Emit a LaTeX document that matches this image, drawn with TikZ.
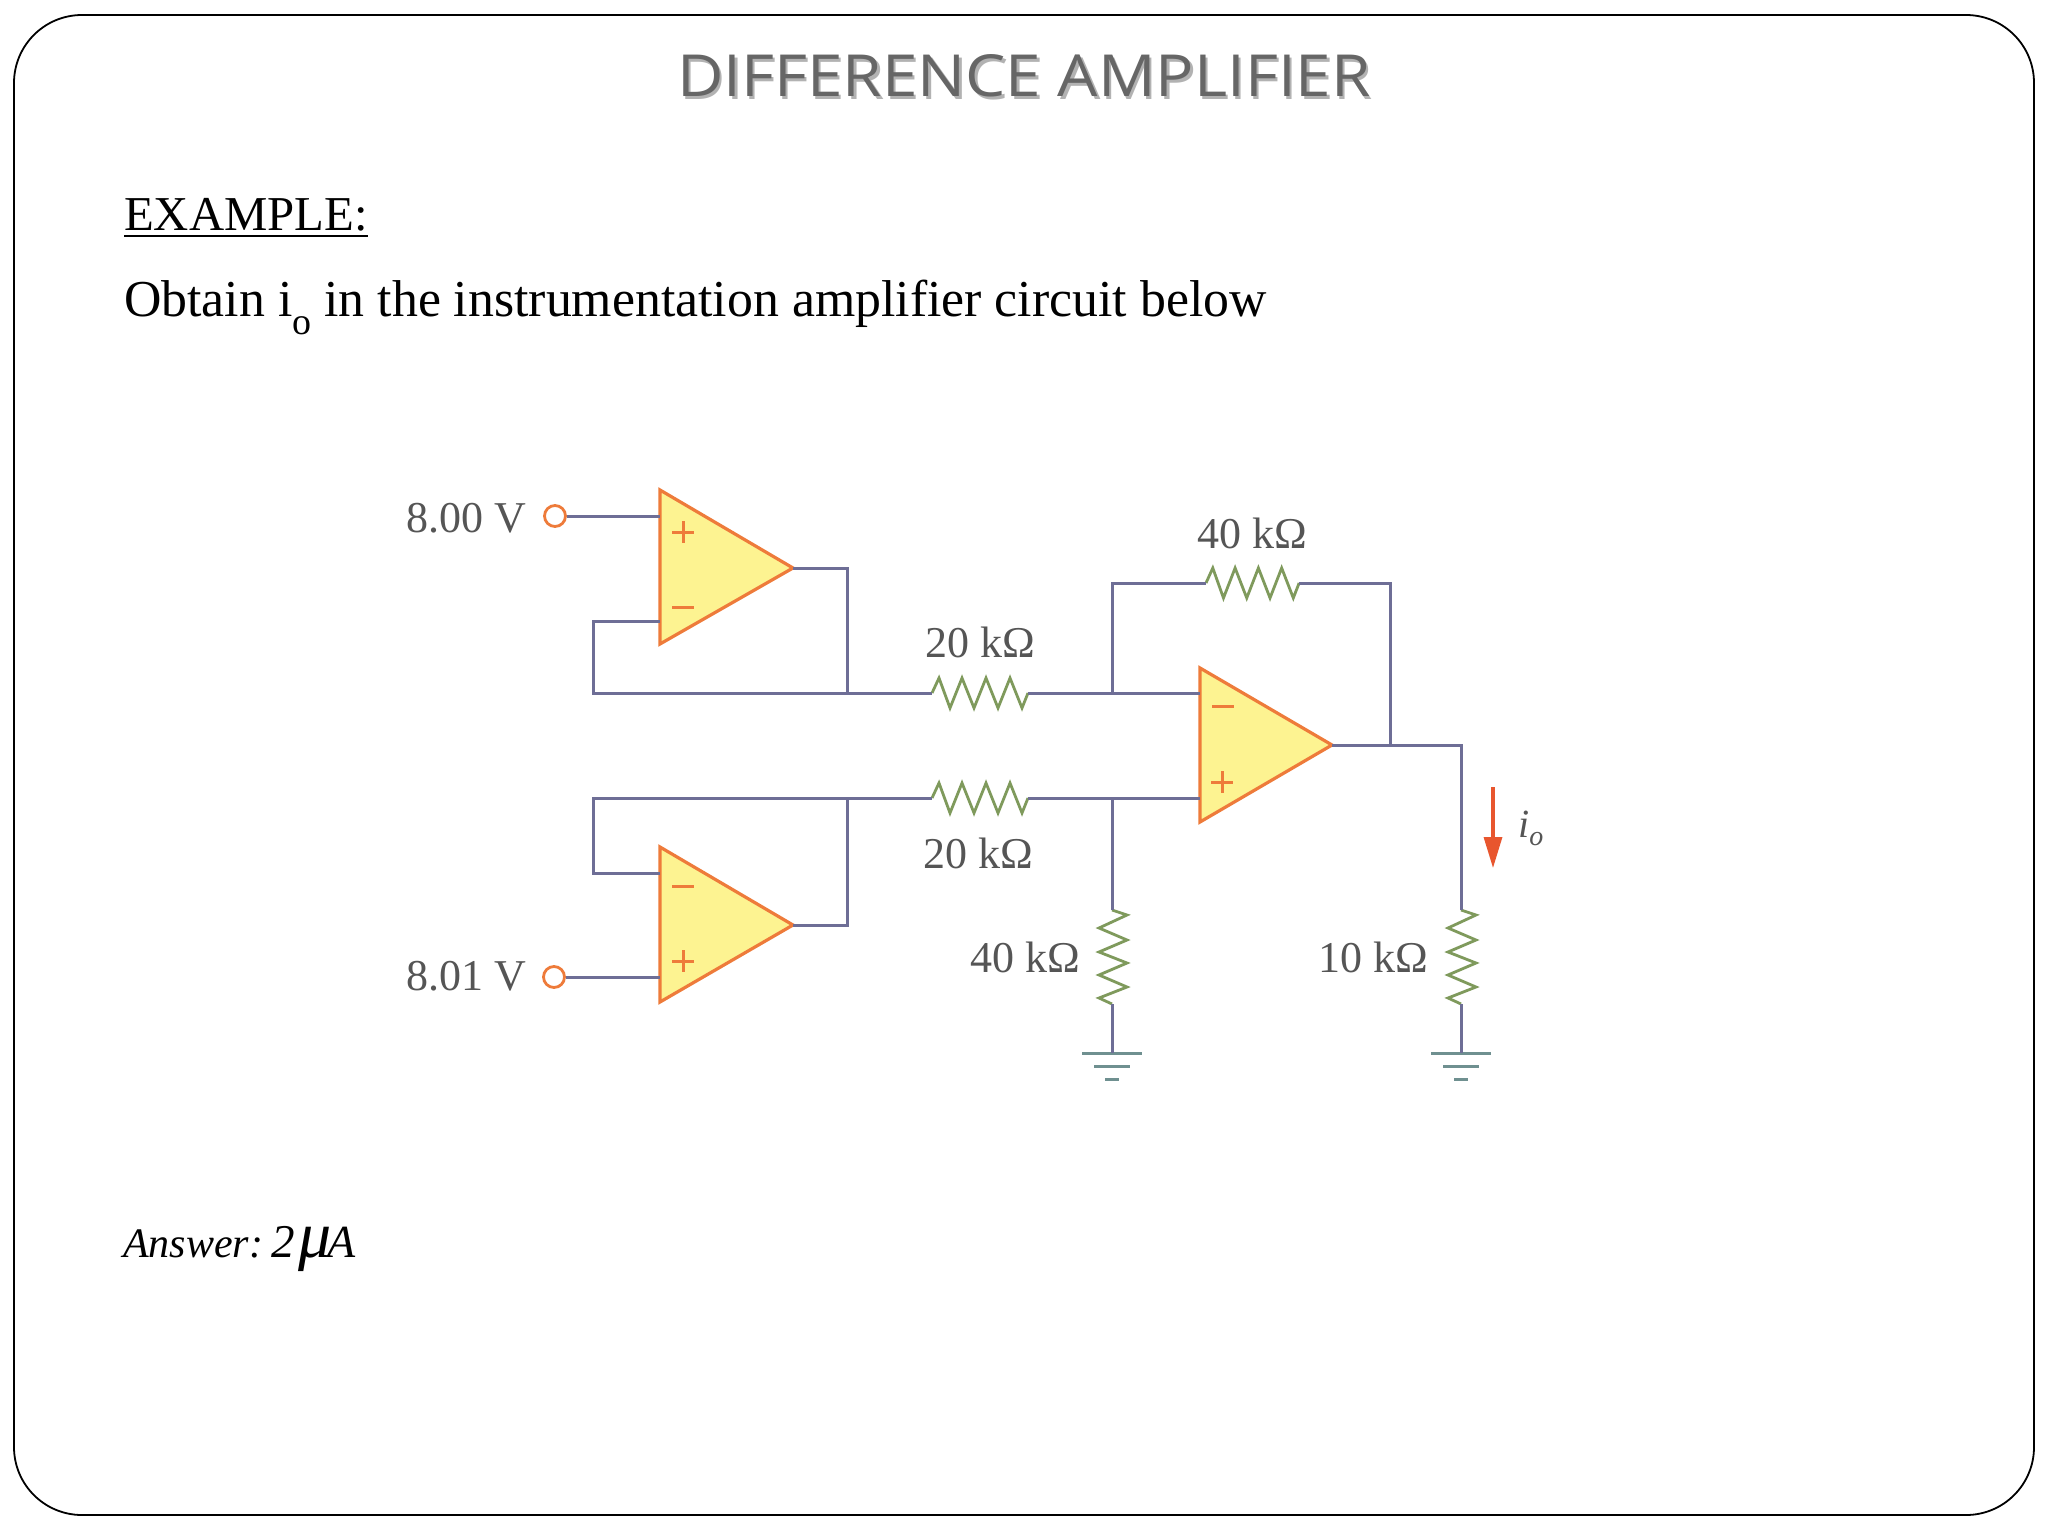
\documentclass[tikz,border=0pt]{standalone}
\usepackage{fontspec}
\setmainfont{Liberation Serif}
\newfontfamily\titlefont[FakeStretch=1.1]{Open Sans}
\usetikzlibrary{arrows.meta}
\definecolor{wire}{HTML}{6E6E96}
\definecolor{ampfill}{HTML}{FDF391}
\definecolor{ampline}{HTML}{EE7B3A}
\definecolor{resline}{HTML}{7F9A5C}
\definecolor{gndline}{HTML}{6F9090}
\definecolor{lab}{HTML}{555555}
\definecolor{titlegrey}{HTML}{666666}
\definecolor{arrowred}{HTML}{E8562E}
\newcommand{\px}[1]{\fontsize{#1}{#1}\selectfont}
\tikzset{
  wirepath/.style={draw=wire,line width=3pt,line join=miter},
  amp/.style={draw=ampline,fill=ampfill,line width=3.2pt,line join=miter},
  signmark/.style={draw=ampline,line width=3pt},
  respath/.style={draw=resline,line width=2.8pt,line join=miter},
  terminal/.style={circle,draw=ampline,fill=white,line width=2.8pt,minimum size=21pt,inner sep=0pt},
  complabel/.style={text=lab,inner sep=0pt,font=\px{44}},
  pics/hres/.style={code={\draw[respath] (0,0) -- (7,-15) -- (18,15) -- (30,-15) -- (42,15) -- (54,-15) -- (66,15) -- (78,-15) -- (90,15) -- (96,0);}},
  pics/vres/.style={code={\draw[respath] (0,0) -- (15,5) -- (-13,18) -- (15,30) -- (-13,42) -- (15,53) -- (-13,65) -- (15,77) -- (-13,88) -- (0,94);}},
  pics/gnd/.style={code={
    \draw[draw=gndline,line width=3pt] (-30,0) -- (30,0);
    \draw[draw=gndline,line width=3pt] (-18,13) -- (18,13);
    \draw[draw=gndline,line width=3pt] (-7,26) -- (7,26);}},
}
\begin{document}
\begin{tikzpicture}[x=1pt,y=-1pt]
\useasboundingbox (0,0) rectangle (2048,1536);
\fill[white] (0,0) rectangle (2048,1536);
\draw[black,line width=1.8pt,rounded corners=68pt] (14,15) rectangle (2034,1515);

% titles
\node[text=black!30,anchor=base,inner sep=0pt,font=\titlefont\px{58}] (titleshadow) at (1026.5,99.5) {DIFFERENCE AMPLIFIER};
\node[text=titlegrey,anchor=base,inner sep=0pt,font=\titlefont\px{58}] (title) at (1024,97) {DIFFERENCE AMPLIFIER};
\node[anchor=base west,inner sep=0pt,font=\px{48.7}] (example) at (124,230) {EXAMPLE:};
\draw[black,line width=2.8pt] (example.base west |- 0,236) -- (example.base east |- 0,236);
\node[anchor=base west,inner sep=0pt,font=\px{51.8}] (obtain) at (124,316) {Obtain i\raisebox{-18pt}{\px{38}o} in the instrumentation amplifier circuit below};
\node[anchor=base west,inner sep=0pt,font=\px{42}\itshape] (answer) at (123,1257) {Answer:\hspace{8pt}{\px{47}2}\hspace{4pt}{\px{66}μ}\hspace{-4pt}{\px{46}A}};

% op amps
\draw[amp] (660,490) -- (793,568) -- (660,644) -- cycle;
\draw[amp] (660,847) -- (793,925) -- (660,1002) -- cycle;
\draw[amp] (1200,668) -- (1332,745) -- (1200,822) -- cycle;
\coordinate (aplus) at (660,516);
\coordinate (aminus) at (660,621);
\coordinate (aout) at (793,568);
\coordinate (bminus) at (660,873);
\coordinate (bplus) at (660,977);
\coordinate (bout) at (793,925);
\coordinate (cminus) at (1200,693);
\coordinate (cplus) at (1200,798);
\coordinate (cout) at (1332,745);
\draw[signmark] (672,532) -- (694,532) (683,521) -- (683,543);
\draw[signmark] (672,607) -- (694,607);
\draw[signmark] (672,886) -- (694,886);
\draw[signmark] (672,961) -- (694,961) (683,950) -- (683,972);
\draw[signmark] (1212,706) -- (1234,706);
\draw[signmark] (1211,782) -- (1233,782) (1222,771) -- (1222,793);

% terminals and resistors
\node[terminal] (t1) at (555,516) {};
\node[terminal] (t2) at (554,977) {};
\coordinate (r1a) at (932,693); \coordinate (r1b) at (1028,693);
\coordinate (r2a) at (932,798); \coordinate (r2b) at (1028,798);
\coordinate (r3a) at (1206,583); \coordinate (r3b) at (1299,583);
\coordinate (r4a) at (1112,910); \coordinate (r4b) at (1112,1004);
\coordinate (r5a) at (1461,910); \coordinate (r5b) at (1461,1004);
\coordinate (g1) at (1112,1053); \coordinate (g2) at (1461,1053);
\pic at (r1a) {hres};
\pic at (r2a) {hres};
\pic[xscale=0.97] at (r3a) {hres};
\pic at (r4a) {vres};
\pic at (r5a) {vres};
\pic at (g1) {gnd};
\pic at (g2) {gnd};

% wires
\coordinate (j1) at (847,693);
\coordinate (j2) at (847,798);
\coordinate (j3) at (1112,693);
\coordinate (j4) at (1112,798);
\coordinate (j5) at (1390,745);
\draw[wirepath] (t1) -- (aplus);
\draw[wirepath] (t2) -- (bplus);
\draw[wirepath] (aout) -| (j1);
\draw[wirepath] (aminus) -- (593,621) -- (593,693) -- (j1) -- (r1a);
\draw[wirepath] (bout) -| (j2);
\draw[wirepath] (bminus) -- (593,873) -- (593,798) -- (j2) -- (r2a);
\draw[wirepath] (r1b) -- (j3) -- (cminus);
\draw[wirepath] (r2b) -- (j4) -- (cplus);
\draw[wirepath] (j3) |- (r3a);
\draw[wirepath] (r3b) -| (j5);
\draw[wirepath] (cout) -- (j5) -- (1461,745) -- (r5a);
\draw[wirepath] (j4) -- (r4a);
\draw[wirepath] (r4b) -- (g1);
\draw[wirepath] (r5b) -- (g2);

% current arrow
\coordinate (ia) at (1493,787);
\coordinate (ib) at (1493,868);
\draw[draw=arrowred,line width=3.2pt,-{Triangle[length=31pt,width=18pt,fill=arrowred]}] (ia) -- (ib);

% labels
\node[complabel,anchor=base west] (l1) at (406,532) {8.00 V};
\node[complabel,anchor=base west] (l2) at (406,990) {8.01 V};
\node[complabel,anchor=base] (l3) at (1252,548) {40 kΩ};
\node[complabel,anchor=base] (l4) at (980,657) {20 kΩ};
\node[complabel,anchor=base] (l5) at (978,868) {20 kΩ};
\node[complabel,anchor=base east] (l6) at (1080,972) {40 kΩ};
\node[complabel,anchor=base east] (l7) at (1428,972) {10 kΩ};
\node[complabel,anchor=base west,font=\px{40}\itshape] (l8) at (1518,837) {i\raisebox{-8pt}{\px{28}o}};
\end{tikzpicture}
\end{document}
